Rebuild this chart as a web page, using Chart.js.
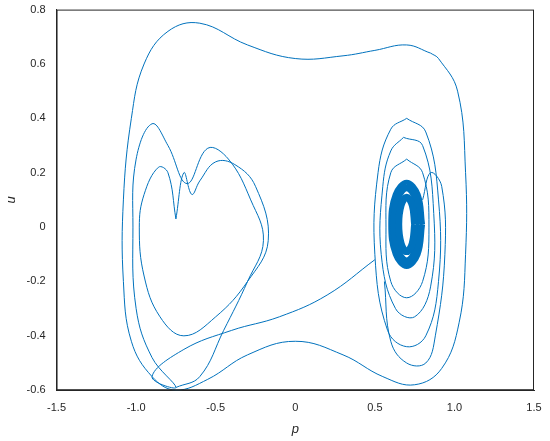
<!DOCTYPE html>
<html><head><script src="https://cdn.jsdelivr.net/npm/chart.js"></script>
<style>body{margin:0;background:#fff}#w{width:550px;height:441px}</style></head>
<body><div id="w"><canvas id="c"></canvas></div>
<script>
const xTicks=[-1.5,-1,-0.5,0,0.5,1,1.5];
const yTicks=[-0.6,-0.4,-0.2,0,0.2,0.4,0.6,0.8];
const outerP=[0.85,0.64,0.7,0.67,0.5,0.65,0.3,0.63,0,0.62,-0.3,0.67,-0.6,0.75,-0.8,0.72,-0.95,0.6,-1.03,0.4,-1.08,0.1,-1.08,-0.2,-1.03,-0.42,-0.9,-0.55,-0.75,-0.6,-0.55,-0.56,-0.3,-0.47,0,-0.42,0.3,-0.47,0.55,-0.55,0.75,-0.58,0.92,-0.52,1.03,-0.35,1.07,-0.1,1.07,0.2,1.02,0.5,0.9,0.62,0.85,0.64];
const heartP=[-0.75,0.03,-0.8,0.2,-0.86,0.22,-0.95,0.12,-0.98,0,-0.95,-0.18,-0.85,-0.33,-0.7,-0.4,-0.5,-0.33,-0.3,-0.2,-0.17,-0.05,-0.25,0.15,-0.38,0.23,-0.5,0.24,-0.6,0.17,-0.65,0.12,-0.7,0.2,-0.75,0.03];
const heart2P=[0.5,-0.12,0.2,-0.25,-0.1,-0.33,-0.4,-0.38,-0.7,-0.45,-0.9,-0.55,-0.75,-0.59,-0.9,-0.48,-1.0,-0.3,-1.02,0,-1.0,0.25,-0.9,0.38,-0.8,0.3,-0.68,0.16,-0.55,0.29,-0.42,0.25,-0.28,0.1,-0.2,-0.05,-0.3,-0.2,-0.45,-0.38,-0.6,-0.55,-0.75,-0.59];
const orbitA=[0.7,0.4,0.82,0.35,0.9,0.1,0.9,-0.2,0.82,-0.4,0.7,-0.44,0.58,-0.38,0.5,-0.1,0.52,0.2,0.6,0.36,0.7,0.4];
const orbitB=[0.68,0.33,0.8,0.3,0.87,0.05,0.85,-0.22,0.75,-0.33,0.63,-0.3,0.54,-0.1,0.55,0.15,0.6,0.28,0.68,0.33];
const orbitC=[0.7,0.25,0.8,0.2,0.84,0,0.8,-0.2,0.7,-0.26,0.6,-0.2,0.57,0,0.6,0.2,0.7,0.25];
const orbitD=[0.8,0.1,0.85,0.2,0.92,0.15,0.94,-0.1,0.88,-0.4,0.82,-0.5,0.7,-0.5,0.6,-0.42,0.56,-0.2];
const ring1=[0.75,0.01,0.735,0.08,0.7,0.11,0.665,0.08,0.65,0.01,0.665,-0.06,0.7,-0.09,0.735,-0.06,0.75,0.01];
const ring2=[0.78,0.01,0.757,0.105,0.7,0.145,0.643,0.105,0.62,0.01,0.643,-0.085,0.7,-0.125,0.757,-0.085,0.78,0.01];
const ring3=[0.8,0.01,0.772,0.12,0.7,0.165,0.628,0.12,0.6,0.01,0.628,-0.1,0.7,-0.145,0.772,-0.1,0.8,0.01];
function pts(a){const r=[];for(let i=0;i<a.length;i+=2)r.push({x:a[i],y:a[i+1]});return r;}
const col='#0072BD';
function ds(a,w){return {data:pts(a),showLine:true,borderColor:col,borderWidth:w||1,pointRadius:0,tension:0.4,fill:false};}
new Chart(document.getElementById('c'),{type:'scatter',
data:{datasets:[ds(outerP),ds(heartP),ds(heart2P),ds(orbitA),ds(orbitB),ds(orbitC),ds(orbitD),ds(ring1,7),ds(ring2,7),ds(ring3,5)]},
options:{responsive:true,maintainAspectRatio:false,animation:false,
layout:{padding:{right:16,top:6}},
plugins:{legend:{display:false},tooltip:{enabled:false}},
scales:{
x:{min:-1.5,max:1.5,afterBuildTicks:s=>{s.ticks=xTicks.map(v=>({value:v}));},
 grid:{display:false},border:{color:'#262626'},ticks:{color:'#262626',font:{family:'Liberation Sans',size:11}},
 title:{display:true,text:'p',font:{family:'Liberation Sans',size:13,style:'italic'},color:'#262626'}},
y:{min:-0.6,max:0.8,afterBuildTicks:s=>{s.ticks=yTicks.map(v=>({value:v}));},
 grid:{display:false},border:{color:'#262626'},ticks:{color:'#262626',font:{family:'Liberation Sans',size:11},callback:v=>Math.round(v*10)/10},
 title:{display:true,text:'u',font:{family:'Liberation Sans',size:13,style:'italic'},color:'#262626'}}
}},
plugins:[{id:'box',afterDraw(c){const a=c.chartArea,x=c.ctx;x.save();x.strokeStyle='#262626';x.lineWidth=1;x.strokeRect(a.left+0.5,a.top+0.5,a.width-1,a.height-1);x.restore();}}]
});
</script></body></html>
